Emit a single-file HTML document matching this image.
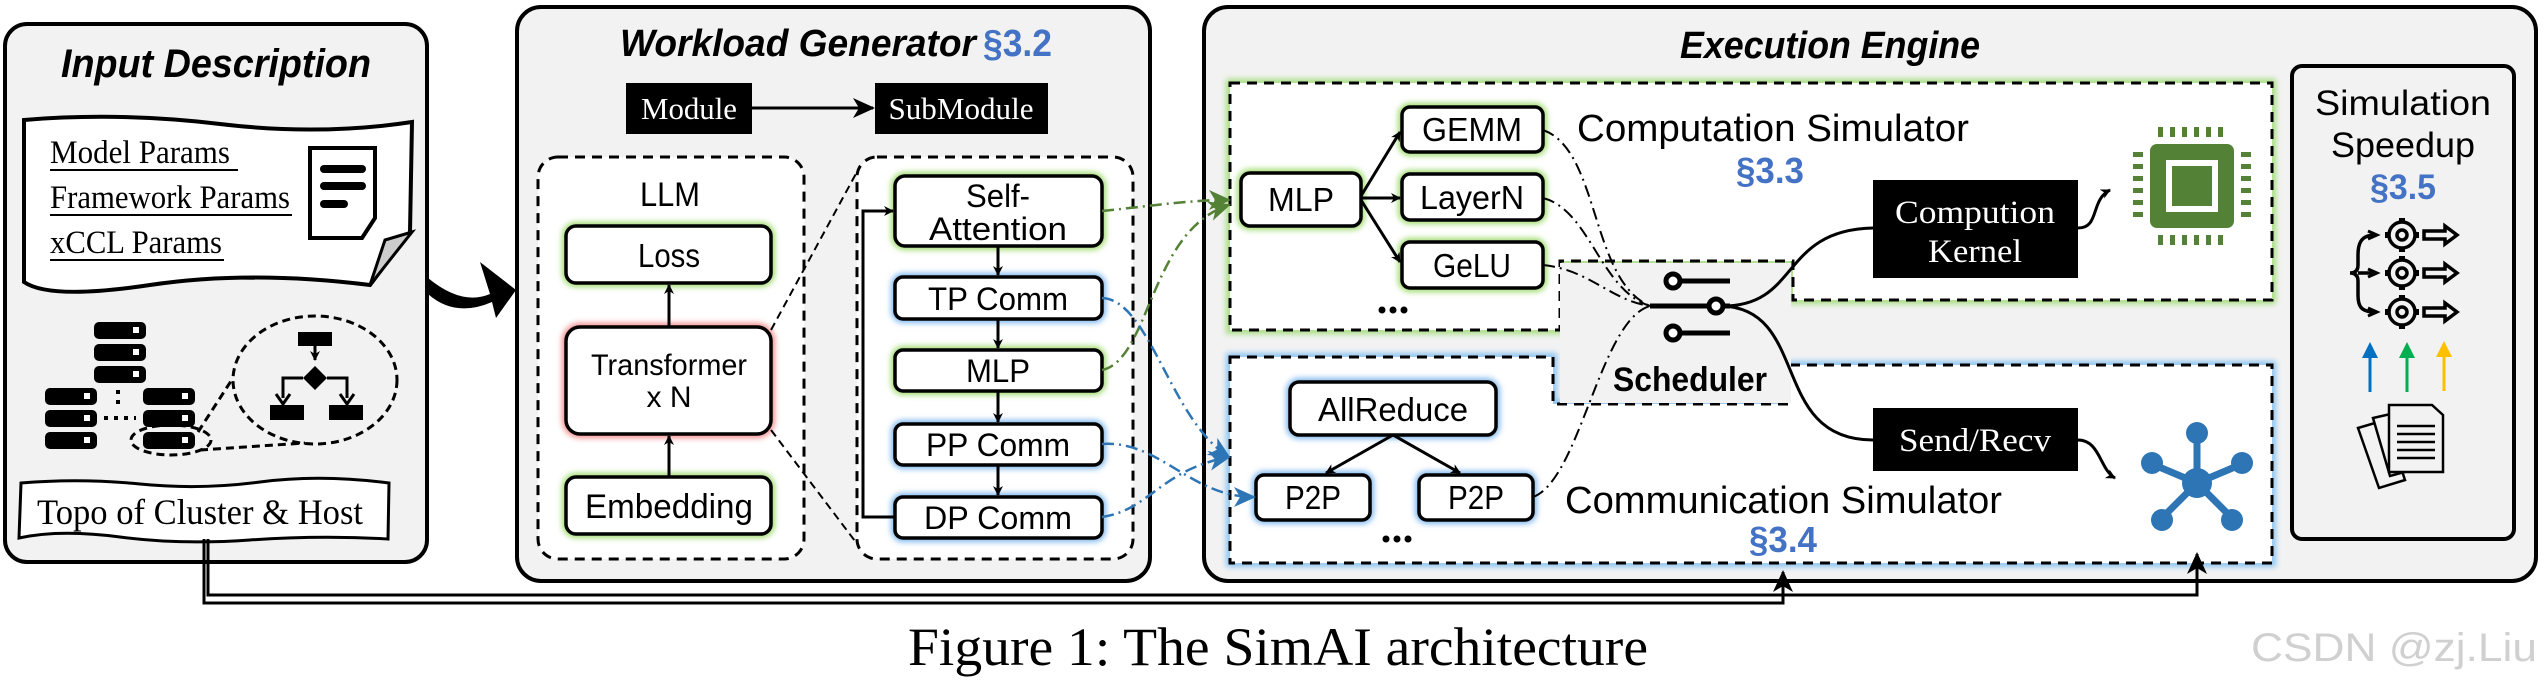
<!DOCTYPE html>
<html><head><meta charset="utf-8"><style>
html,body{margin:0;padding:0;background:#fff;}
svg{display:block;}
.s{font-family:"Liberation Sans",sans-serif;}
.r{font-family:"Liberation Serif",serif;}
</style></head><body>
<svg width="2545" height="682" viewBox="0 0 2545 682" xmlns="http://www.w3.org/2000/svg">
<defs>
<filter id="gg" x="-20%" y="-40%" width="140%" height="180%"><feGaussianBlur stdDeviation="3"/></filter>
<marker id="ah" markerWidth="10" markerHeight="10" refX="9" refY="5" orient="auto" markerUnits="userSpaceOnUse"><path d="M0,0 L10,5 L0,10 L3,5 z" fill="#000"/></marker>
<marker id="ahb" markerWidth="22" markerHeight="20" refX="20" refY="10" orient="auto" markerUnits="userSpaceOnUse"><path d="M0,0 L22,10 L0,20 L6,10 z" fill="#000"/></marker>
<marker id="ahg" markerWidth="22" markerHeight="20" refX="20" refY="10" orient="auto" markerUnits="userSpaceOnUse"><path d="M0,0 L22,10 L0,20 L6,10 z" fill="#538135"/></marker>
<marker id="ahbl" markerWidth="22" markerHeight="20" refX="20" refY="10" orient="auto" markerUnits="userSpaceOnUse"><path d="M0,0 L22,10 L0,20 L6,10 z" fill="#2e75b6"/></marker>
</defs>

<!-- ===== Input Description ===== -->
<rect x="5" y="24" width="422" height="538" rx="22" fill="#f2f2f2" stroke="#000" stroke-width="4"/>
<text x="216" y="77" text-anchor="middle" class="s" font-size="40" font-weight="bold" font-style="italic" textLength="310" lengthAdjust="spacingAndGlyphs">Input Description</text>
<path d="M24,120 Q120,112 220,124 T412,122 L410,232 L370,285 Q250,270 150,285 T24,282 Z" fill="#fff" stroke="#000" stroke-width="4"/>
<path d="M412,232 L385,240 L370,285 Z" fill="#ccc" stroke="#000" stroke-width="3"/>
<text x="50" y="163" class="r" font-size="33" textLength="180" lengthAdjust="spacingAndGlyphs">Model Params</text>
<line x1="50" y1="170" x2="238" y2="170" stroke="#000" stroke-width="2"/>
<text x="50" y="208" class="r" font-size="33" textLength="240" lengthAdjust="spacingAndGlyphs">Framework Params</text>
<line x1="50" y1="215" x2="292" y2="215" stroke="#000" stroke-width="2"/>
<text x="50" y="253" class="r" font-size="33" textLength="172" lengthAdjust="spacingAndGlyphs">xCCL Params</text>
<line x1="50" y1="260" x2="224" y2="260" stroke="#000" stroke-width="2"/>
<path d="M310,148 L375,148 L375,218 L362,238 L310,238 Z" fill="#fff" stroke="#000" stroke-width="4"/>
<rect x="320" y="165" width="46" height="8" rx="4" fill="#000"/>
<rect x="320" y="182" width="46" height="8" rx="4" fill="#000"/>
<rect x="320" y="200" width="28" height="8" rx="4" fill="#000"/>
<!-- servers -->
<g fill="#000">
<rect x="94" y="322" width="52" height="17" rx="5"/><rect x="94" y="344" width="52" height="17" rx="5"/><rect x="94" y="366" width="52" height="17" rx="5"/>
<rect x="45" y="388" width="52" height="17" rx="5"/><rect x="45" y="410" width="52" height="17" rx="5"/><rect x="45" y="432" width="52" height="17" rx="5"/>
<rect x="143" y="388" width="52" height="17" rx="5"/><rect x="143" y="410" width="52" height="17" rx="5"/><rect x="143" y="432" width="52" height="17" rx="5"/>
</g>
<g fill="#fff"><rect x="133" y="327" width="6" height="6"/><rect x="133" y="349" width="6" height="6"/><rect x="133" y="371" width="6" height="6"/>
<rect x="84" y="393" width="6" height="6"/><rect x="84" y="415" width="6" height="6"/><rect x="84" y="437" width="6" height="6"/>
<rect x="182" y="393" width="6" height="6"/><rect x="182" y="415" width="6" height="6"/><rect x="182" y="437" width="6" height="6"/></g>
<path d="M118,390 V410 M104,418 H136" stroke="#000" stroke-width="4" stroke-dasharray="4,6"/>
<ellipse cx="171" cy="440" rx="40" ry="15" fill="none" stroke="#000" stroke-width="3" stroke-dasharray="8,5"/>
<ellipse cx="315" cy="380" rx="82" ry="64" fill="none" stroke="#000" stroke-width="3" stroke-dasharray="8,5"/>
<line x1="198" y1="432" x2="233" y2="378" stroke="#000" stroke-width="3" stroke-dasharray="8,5"/>
<line x1="200" y1="450" x2="305" y2="443" stroke="#000" stroke-width="3" stroke-dasharray="8,5"/>
<rect x="298" y="332" width="34" height="14" fill="#000"/>
<line x1="315" y1="346" x2="315" y2="360" stroke="#000" stroke-width="3" marker-end="url(#ah)"/>
<path d="M315,366 L327,378 L315,390 L303,378 Z" fill="#000"/>
<path d="M303,378 H283 V398 M327,378 H347 V398" fill="none" stroke="#000" stroke-width="3"/>
<path d="M276,394 L283,404 L290,394 M340,394 L347,404 L354,394" fill="none" stroke="#000" stroke-width="3"/>
<rect x="270" y="405" width="34" height="15" fill="#000"/><rect x="329" y="405" width="34" height="15" fill="#000"/>
<!-- topo box -->
<path d="M21,483 Q80,478 140,484 T260,482 T389,483 L388,539 Q320,535 250,540 T120,537 T19,538 Z" fill="#fff" stroke="#000" stroke-width="3"/>
<text x="37" y="524" class="r" font-size="36" textLength="326" lengthAdjust="spacingAndGlyphs">Topo of Cluster &amp; Host</text>
<!-- big curved arrow -->
<path d="M428,278 Q462,306 490,294 L480,262 L516,290 L496,318 L492,302 Q455,318 428,294 Z" fill="#000"/>

<!-- ===== Workload Generator ===== -->
<rect x="517" y="7" width="633" height="574" rx="24" fill="#f2f2f2" stroke="#000" stroke-width="4"/>
<text x="620" y="56" class="s" font-size="38" font-weight="bold" font-style="italic" textLength="356" lengthAdjust="spacingAndGlyphs">Workload Generator</text>
<text x="983" y="56" class="s" font-size="38" font-weight="bold" fill="#4472c4" textLength="69" lengthAdjust="spacingAndGlyphs">§3.2</text>
<rect x="626" y="83" width="126" height="51" fill="#000"/>
<text x="689" y="119" text-anchor="middle" class="r" font-size="31" fill="#fff" textLength="96" lengthAdjust="spacingAndGlyphs">Module</text>
<line x1="752" y1="108" x2="873" y2="108" stroke="#000" stroke-width="3" marker-end="url(#ahb)"/>
<rect x="875" y="83" width="173" height="51" fill="#000"/>
<text x="961" y="119" text-anchor="middle" class="r" font-size="31" fill="#fff" textLength="145" lengthAdjust="spacingAndGlyphs">SubModule</text>
<rect x="538" y="157" width="266" height="402" rx="20" fill="#fff" stroke="#000" stroke-width="3" stroke-dasharray="10,7"/>
<rect x="857" y="157" width="276" height="402" rx="20" fill="#fff" stroke="#000" stroke-width="3" stroke-dasharray="10,7"/>
<text x="670" y="206" text-anchor="middle" class="s" font-size="34" textLength="60" lengthAdjust="spacingAndGlyphs">LLM</text>
<!-- glows -->
<g filter="url(#gg)" fill="none" stroke-width="8">
<rect x="566" y="226" width="205" height="57" rx="10" stroke="#9fdc6d"/>
<rect x="566" y="327" width="205" height="107" rx="14" stroke="#f48a8a"/>
<rect x="566" y="477" width="205" height="57" rx="10" stroke="#9fdc6d"/>
<rect x="895" y="176" width="207" height="70" rx="10" stroke="#9fdc6d"/>
<rect x="895" y="277" width="207" height="42" rx="8" stroke="#7fb8ee"/>
<rect x="895" y="350" width="207" height="41" rx="8" stroke="#9fdc6d"/>
<rect x="895" y="424" width="207" height="41" rx="8" stroke="#7fb8ee"/>
<rect x="895" y="497" width="207" height="41" rx="8" stroke="#7fb8ee"/>
</g>
<g fill="#fff" stroke="#000" stroke-width="3.5">
<rect x="566" y="226" width="205" height="57" rx="10"/>
<rect x="566" y="327" width="205" height="107" rx="14"/>
<rect x="566" y="477" width="205" height="57" rx="10"/>
<rect x="895" y="176" width="207" height="70" rx="10"/>
<rect x="895" y="277" width="207" height="42" rx="8"/>
<rect x="895" y="350" width="207" height="41" rx="8"/>
<rect x="895" y="424" width="207" height="41" rx="8"/>
<rect x="895" y="497" width="207" height="41" rx="8"/>
</g>
<g class="s" text-anchor="middle">
<text x="669" y="267" font-size="33" textLength="62" lengthAdjust="spacingAndGlyphs">Loss</text>
<text x="669" y="375" font-size="30" textLength="156" lengthAdjust="spacingAndGlyphs">Transformer</text>
<text x="669" y="407" font-size="30">x N</text>
<text x="669" y="518" font-size="34" textLength="168" lengthAdjust="spacingAndGlyphs">Embedding</text>
<text x="998" y="207" font-size="32" textLength="64" lengthAdjust="spacingAndGlyphs">Self-</text>
<text x="998" y="240" font-size="32" textLength="138" lengthAdjust="spacingAndGlyphs">Attention</text>
<text x="998" y="310" font-size="32" textLength="140" lengthAdjust="spacingAndGlyphs">TP Comm</text>
<text x="998" y="382" font-size="32" textLength="64" lengthAdjust="spacingAndGlyphs">MLP</text>
<text x="998" y="456" font-size="32" textLength="144" lengthAdjust="spacingAndGlyphs">PP Comm</text>
<text x="998" y="529" font-size="32" textLength="148" lengthAdjust="spacingAndGlyphs">DP Comm</text>
</g>
<g stroke="#000" stroke-width="3" fill="none">
<line x1="669" y1="327" x2="669" y2="285" marker-end="url(#ah)"/>
<line x1="669" y1="477" x2="669" y2="436" marker-end="url(#ah)"/>
<line x1="998" y1="246" x2="998" y2="275" marker-end="url(#ah)"/>
<line x1="998" y1="319" x2="998" y2="348" marker-end="url(#ah)"/>
<line x1="998" y1="391" x2="998" y2="422" marker-end="url(#ah)"/>
<line x1="998" y1="465" x2="998" y2="495" marker-end="url(#ah)"/>
<path d="M895,517 H863 V211 H893" marker-end="url(#ah)"/>
</g>
<g stroke="#000" stroke-width="2" stroke-dasharray="8,5" fill="none">
<line x1="771" y1="330" x2="858" y2="170"/>
<line x1="771" y1="430" x2="858" y2="545"/>
</g>

<!-- ===== Execution Engine ===== -->
<rect x="1204" y="7" width="1332" height="574" rx="24" fill="#f2f2f2" stroke="#000" stroke-width="4"/>
<text x="1830" y="58" text-anchor="middle" class="s" font-size="38" font-weight="bold" font-style="italic" textLength="300" lengthAdjust="spacingAndGlyphs">Execution Engine</text>
<path d="M1230,83 L2272,83 L2272,300 L1793,300 L1793,261 L1560,261 L1560,330 L1230,330 Z" fill="none" stroke="#a6de80" stroke-width="8" filter="url(#gg)"/>
<path d="M1230,83 L2272,83 L2272,300 L1793,300 L1793,261 L1560,261 L1560,330 L1230,330 Z" fill="#fff" stroke="#000" stroke-width="3" stroke-dasharray="10,7"/>
<path d="M1230,357 L1553,357 L1553,404 L1788,404 L1788,365 L2272,365 L2272,563 L1230,563 Z" fill="none" stroke="#8cc4f2" stroke-width="8" filter="url(#gg)"/>
<path d="M1230,357 L1553,357 L1553,404 L1788,404 L1788,365 L2272,365 L2272,563 L1230,563 Z" fill="#fff" stroke="#000" stroke-width="3" stroke-dasharray="10,7"/>
<rect x="1560" y="263" width="231" height="140" fill="#f2f2f2"/>
<g filter="url(#gg)" fill="none" stroke-width="8">
<rect x="1241" y="173" width="120" height="53" rx="9" stroke="#9fdc6d"/>
<rect x="1402" y="107" width="141" height="45" rx="8" stroke="#9fdc6d"/>
<rect x="1402" y="174" width="141" height="46" rx="8" stroke="#9fdc6d"/>
<rect x="1402" y="242" width="141" height="46" rx="8" stroke="#9fdc6d"/>
<rect x="1290" y="382" width="206" height="53" rx="9" stroke="#7fb8ee"/>
<rect x="1256" y="475" width="114" height="45" rx="8" stroke="#7fb8ee"/>
<rect x="1419" y="475" width="114" height="45" rx="8" stroke="#7fb8ee"/>
</g>
<g fill="#fff" stroke="#000" stroke-width="3.5">
<rect x="1241" y="173" width="120" height="53" rx="9"/>
<rect x="1402" y="107" width="141" height="45" rx="8"/>
<rect x="1402" y="174" width="141" height="46" rx="8"/>
<rect x="1402" y="242" width="141" height="46" rx="8"/>
<rect x="1290" y="382" width="206" height="53" rx="9"/>
<rect x="1256" y="475" width="114" height="45" rx="8"/>
<rect x="1419" y="475" width="114" height="45" rx="8"/>
</g>
<g class="s" text-anchor="middle" font-size="33">
<text x="1301" y="211" textLength="66" lengthAdjust="spacingAndGlyphs">MLP</text>
<text x="1472" y="141" textLength="100" lengthAdjust="spacingAndGlyphs">GEMM</text>
<text x="1472" y="209" textLength="104" lengthAdjust="spacingAndGlyphs">LayerN</text>
<text x="1472" y="277" textLength="78" lengthAdjust="spacingAndGlyphs">GeLU</text>
<text x="1393" y="421" textLength="150" lengthAdjust="spacingAndGlyphs">AllReduce</text>
<text x="1313" y="509" textLength="56" lengthAdjust="spacingAndGlyphs">P2P</text>
<text x="1476" y="509" textLength="56" lengthAdjust="spacingAndGlyphs">P2P</text>
</g>
<g fill="#000"><circle cx="1382" cy="310" r="3.5"/><circle cx="1393" cy="310" r="3.5"/><circle cx="1404" cy="310" r="3.5"/>
<circle cx="1386" cy="539" r="3.5"/><circle cx="1397" cy="539" r="3.5"/><circle cx="1408" cy="539" r="3.5"/></g>
<g stroke="#000" stroke-width="3" fill="none">
<line x1="1361" y1="196" x2="1400" y2="132" marker-end="url(#ah)"/>
<line x1="1361" y1="198" x2="1400" y2="198" marker-end="url(#ah)"/>
<line x1="1361" y1="200" x2="1400" y2="262" marker-end="url(#ah)"/>
<line x1="1393" y1="435" x2="1326" y2="473" marker-end="url(#ah)"/>
<line x1="1393" y1="435" x2="1460" y2="473" marker-end="url(#ah)"/>
</g>
<text x="1577" y="141" class="s" font-size="38" textLength="392" lengthAdjust="spacingAndGlyphs">Computation Simulator</text>
<text x="1770" y="183" text-anchor="middle" class="s" font-size="36" font-weight="bold" fill="#4472c4" textLength="68" lengthAdjust="spacingAndGlyphs">§3.3</text>
<text x="1565" y="513" class="s" font-size="38" textLength="437" lengthAdjust="spacingAndGlyphs">Communication Simulator</text>
<text x="1783" y="552" text-anchor="middle" class="s" font-size="36" font-weight="bold" fill="#4472c4" textLength="68" lengthAdjust="spacingAndGlyphs">§3.4</text>
<g stroke="#000" stroke-width="5" fill="none">
<line x1="1673" y1="281" x2="1730" y2="281"/><circle cx="1673" cy="281" r="7" fill="#fff"/>
<line x1="1650" y1="306" x2="1730" y2="306"/><circle cx="1716" cy="306" r="7" fill="#fff"/>
<line x1="1673" y1="333" x2="1730" y2="333"/><circle cx="1673" cy="333" r="7" fill="#fff"/>
</g>
<text x="1690" y="391" text-anchor="middle" class="s" font-size="34" font-weight="bold" textLength="154" lengthAdjust="spacingAndGlyphs">Scheduler</text>
<g stroke="#000" stroke-width="3" fill="none">
<path d="M1723,306 C1800,306 1780,230 1873,228"/>
<path d="M1723,306 C1810,310 1770,440 1873,440"/>
<path d="M2078,228 C2100,228 2090,200 2110,190" marker-end="url(#ah)"/>
<path d="M2078,440 C2100,440 2100,470 2115,478" marker-end="url(#ah)"/>
</g>
<rect x="1873" y="180" width="205" height="98" fill="#000"/>
<text x="1975" y="223" text-anchor="middle" class="r" font-size="33" fill="#fff" textLength="160" lengthAdjust="spacingAndGlyphs">Compution</text>
<text x="1975" y="262" text-anchor="middle" class="r" font-size="33" fill="#fff" textLength="94" lengthAdjust="spacingAndGlyphs">Kernel</text>
<rect x="1873" y="408" width="205" height="63" fill="#000"/>
<text x="1975" y="451" text-anchor="middle" class="r" font-size="33" fill="#fff" textLength="152" lengthAdjust="spacingAndGlyphs">Send/Recv</text>
<!-- chip -->
<g fill="#538135">
<rect x="2150" y="144" width="84" height="84" rx="7"/>
<rect x="2158" y="127" width="5" height="10"/><rect x="2170" y="127" width="5" height="10"/><rect x="2182" y="127" width="5" height="10"/><rect x="2194" y="127" width="5" height="10"/><rect x="2206" y="127" width="5" height="10"/><rect x="2218" y="127" width="5" height="10"/>
<rect x="2158" y="235" width="5" height="10"/><rect x="2170" y="235" width="5" height="10"/><rect x="2182" y="235" width="5" height="10"/><rect x="2194" y="235" width="5" height="10"/><rect x="2206" y="235" width="5" height="10"/><rect x="2218" y="235" width="5" height="10"/>
<rect x="2133" y="152" width="10" height="5"/><rect x="2133" y="164" width="10" height="5"/><rect x="2133" y="176" width="10" height="5"/><rect x="2133" y="188" width="10" height="5"/><rect x="2133" y="200" width="10" height="5"/><rect x="2133" y="212" width="10" height="5"/>
<rect x="2241" y="152" width="10" height="5"/><rect x="2241" y="164" width="10" height="5"/><rect x="2241" y="176" width="10" height="5"/><rect x="2241" y="188" width="10" height="5"/><rect x="2241" y="200" width="10" height="5"/><rect x="2241" y="212" width="10" height="5"/>
</g>
<rect x="2166" y="160" width="52" height="52" fill="#fff"/>
<rect x="2172" y="166" width="40" height="40" fill="#538135"/>
<!-- network -->
<g stroke="#2e75b6" stroke-width="7" fill="#2e75b6">
<line x1="2197" y1="483" x2="2197" y2="433"/><line x1="2197" y1="483" x2="2152" y2="464"/><line x1="2197" y1="483" x2="2242" y2="464"/>
<line x1="2197" y1="483" x2="2162" y2="518"/><line x1="2197" y1="483" x2="2232" y2="518"/>
<circle cx="2197" cy="483" r="15" stroke="none"/><circle cx="2197" cy="433" r="11" stroke="none"/>
<circle cx="2152" cy="463" r="11" stroke="none"/><circle cx="2242" cy="463" r="11" stroke="none"/>
<circle cx="2162" cy="520" r="11" stroke="none"/><circle cx="2232" cy="520" r="11" stroke="none"/>
</g>
<!-- speedup panel -->
<rect x="2292" y="66" width="222" height="473" rx="10" fill="#f2f2f2" stroke="#000" stroke-width="4"/>
<g class="s" text-anchor="middle">
<text x="2403" y="115" font-size="35" textLength="176" lengthAdjust="spacingAndGlyphs">Simulation</text>
<text x="2403" y="157" font-size="35" textLength="144" lengthAdjust="spacingAndGlyphs">Speedup</text>
<text x="2403" y="199" font-size="35" font-weight="bold" fill="#4472c4" textLength="66" lengthAdjust="spacingAndGlyphs">§3.5</text>
</g>
<g stroke="#000" stroke-width="3.5" fill="none">
<path d="M2375,235 C2360,235 2358,245 2358,255 V265 Q2358,273 2350,273 Q2358,273 2358,281 V295 C2358,305 2360,312 2375,312"/>
<path d="M2358,273 H2375"/>
<circle cx="2402" cy="235" r="13"/><circle cx="2402" cy="235" r="5"/>
<circle cx="2402" cy="273" r="13"/><circle cx="2402" cy="273" r="5"/>
<circle cx="2402" cy="312" r="13"/><circle cx="2402" cy="312" r="5"/>
<path d="M2402,218 V222 M2402,248 V252 M2385,235 H2389 M2415,235 H2419 M2402,256 V260 M2402,286 V290 M2385,273 H2389 M2415,273 H2419 M2402,295 V299 M2402,325 V329 M2385,312 H2389 M2415,312 H2419" stroke-width="6"/>
<path d="M2424,231 H2445 V226 L2457,235 L2445,244 V239 H2424 Z M2424,269 H2445 V264 L2457,273 L2445,282 V277 H2424 Z M2424,308 H2445 V303 L2457,312 L2445,321 V316 H2424 Z"/>
</g>
<path d="M2368,239 L2377,235 L2368,231 M2368,277 L2377,273 L2368,269 M2368,316 L2377,312 L2368,308" stroke="#000" stroke-width="3" fill="none"/>
<g stroke-width="3" fill="none">
<line x1="2370" y1="392" x2="2370" y2="345" stroke="#0070c0"/><path d="M2362,358 L2370,342 L2378,358 Z" fill="#0070c0"/>
<line x1="2407" y1="392" x2="2407" y2="345" stroke="#00b050"/><path d="M2399,358 L2407,342 L2415,358 Z" fill="#00b050"/>
<line x1="2444" y1="391" x2="2444" y2="344" stroke="#ffc000"/><path d="M2436,357 L2444,341 L2452,357 Z" fill="#ffc000"/>
</g>
<g stroke="#000" stroke-width="2.5" fill="#f2f2f2">
<path d="M2358,428 L2385,420 L2405,480 L2379,488 Z"/>
<path d="M2373,418 L2395,413 L2412,470 L2390,476 Z"/>
<path d="M2389,405 L2432,405 L2443,415 L2443,472 L2389,472 Z"/>
</g>
<path d="M2397,426 H2435 M2397,434 H2435 M2397,442 H2435 M2397,450 H2435 M2397,458 H2435" stroke="#000" stroke-width="2.5"/>

<!-- cross connectors -->
<g fill="none" stroke-width="2.5" stroke-dasharray="12,5,2,5">
<path d="M1102,211 C1160,205 1190,200 1229,200" stroke="#538135" marker-end="url(#ahg)"/>
<path d="M1102,370 C1150,360 1150,230 1229,205" stroke="#538135" marker-end="url(#ahg)"/>
<path d="M1102,298 C1150,300 1170,420 1229,457" stroke="#2e75b6" marker-end="url(#ahbl)"/>
<path d="M1102,444 C1160,440 1190,497 1254,497" stroke="#2e75b6" marker-end="url(#ahbl)"/>
<path d="M1102,517 C1150,510 1160,470 1229,457" stroke="#2e75b6" marker-end="url(#ahbl)"/>
</g>
<g fill="none" stroke="#000" stroke-width="2" stroke-dasharray="12,5,2,5">
<path d="M1543,130 C1600,150 1590,280 1650,306"/>
<path d="M1543,198 C1590,210 1600,290 1650,306"/>
<path d="M1543,265 C1590,270 1610,300 1650,306"/>
<path d="M1533,497 C1580,480 1600,320 1650,306"/>
</g>

<!-- bottom lines -->
<g fill="none" stroke="#000" stroke-width="3">
<path d="M204,539 V603 H1783 V572" marker-end="url(#ahb)"/>
<path d="M208,539 V595 H2197 V554" marker-end="url(#ahb)"/>
</g>

<text x="1278" y="665" text-anchor="middle" class="r" font-size="54" textLength="740" lengthAdjust="spacingAndGlyphs">Figure 1: The SimAI architecture</text>
<text x="2394" y="661" text-anchor="middle" class="s" font-size="40" fill="#d0d0d0" textLength="286" lengthAdjust="spacingAndGlyphs">CSDN @zj.Liu</text>
</svg>
</body></html>
